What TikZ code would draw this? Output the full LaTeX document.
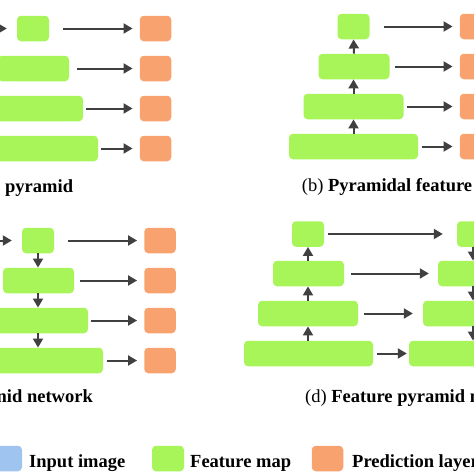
\documentclass[tikz,border=0pt]{standalone}
\usepackage{fontspec}
\setmainfont{Liberation Serif}
\usetikzlibrary{arrows.meta}
\definecolor{fgreen}{RGB}{168,245,90}
\definecolor{porange}{RGB}{248,162,112}
\definecolor{iblue}{RGB}{160,196,240}
\definecolor{agray}{RGB}{64,64,64}
\begin{document}
\begin{tikzpicture}[x=1pt,y=-1pt,
  fm/.style={fill=fgreen, rounded corners=4pt, inner sep=0pt, minimum height=25.5pt},
  pl/.style={fill=porange, rounded corners=4pt, inner sep=0pt, minimum height=25.5pt, minimum width=31.5pt},
  ib/.style={fill=iblue, rounded corners=4pt, inner sep=0pt, minimum height=25.5pt, minimum width=32pt},
  wa/.style={minimum width=32pt}, wb/.style={minimum width=71pt},
  wc/.style={minimum width=100pt}, wd/.style={minimum width=129pt},
  arr/.style={draw=agray, line width=2pt, -{Triangle[length=9pt,width=10pt]}},
  captxt/.style={inner sep=0pt, font=\fontsize{18.5}{20}\selectfont}
]
\useasboundingbox (0,0) rectangle (474,474);
\fill[white] (0,0) rectangle (474,474);

% ---------- (a) ----------
\node[fm,wa] (a1) at (33,28.5) {};
\node[fm,wb] (a2) at (33.5,68.5) {};
\node[fm,wc] (a3) at (33,108.5) {};
\node[fm,wd] (a4) at (33.5,148.5) {};
\node[pl] (pa1) at (155.5,28.5) {};
\node[pl] (pa2) at (155.5,68.5) {};
\node[pl] (pa3) at (155.5,108.5) {};
\node[pl] (pa4) at (155.5,148.5) {};
\coordinate (ina) at (-20,28.5);
\draw[arr] (ina) -- ([xshift=-10pt]a1.west);
\draw[arr] ([xshift=14pt]a1.east) -- ([xshift=-7pt]pa1.west);
\draw[arr] ([xshift=8pt]a2.east) -- ([xshift=-7pt]pa2.west);
\draw[arr] ([xshift=3pt]a3.east) -- ([xshift=-7pt]pa3.west);
\draw[arr] ([xshift=3pt]a4.east) -- ([xshift=-7pt]pa4.west);
\node[captxt, anchor=base west] (capa) at (5,192.5) {\textbf{pyramid}};

% ---------- (b) ----------
\node[fm,wa] (b1) at (353.5,26.5) {};
\node[fm,wb] (b2) at (354,66.5) {};
\node[fm,wc] (b3) at (353.5,106.5) {};
\node[fm,wd] (b4) at (353.5,146.5) {};
\node[pl] (pb1) at (475.5,26.5) {};
\node[pl] (pb2) at (475.5,66.5) {};
\node[pl] (pb3) at (475.5,106.5) {};
\node[pl] (pb4) at (475.5,146.5) {};
\draw[arr] ([xshift=14pt]b1.east) -- ([xshift=-7pt]pb1.west);
\draw[arr] ([xshift=5pt]b2.east) -- ([xshift=-7pt]pb2.west);
\draw[arr] ([xshift=3pt]b3.east) -- ([xshift=-7pt]pb3.west);
\draw[arr] ([xshift=4pt]b4.east) -- ([xshift=-7pt]pb4.west);
\draw[arr] (b2.north) -- (b1.south);
\draw[arr] (b3.north) -- (b3.north |- b2.south);
\draw[arr] (b4.north) -- (b4.north |- b3.south);
\node[captxt, anchor=base west] (capb) at (301.7,191.7) {(b) \textbf{Pyramidal feature}};

% ---------- (c) ----------
\node[fm,wa] (c1) at (38,240.5) {};
\node[fm,wb] (c2) at (38.5,280.5) {};
\node[fm,wc] (c3) at (38,320.5) {};
\node[fm,wd] (c4) at (38.5,360.5) {};
\node[pl] (pc1) at (160,240.5) {};
\node[pl] (pc2) at (160,280.5) {};
\node[pl] (pc3) at (160,320.5) {};
\node[pl] (pc4) at (160,360.5) {};
\coordinate (inc) at (-20,240.5);
\draw[arr] (inc) -- ([xshift=-10pt]c1.west);
\draw[arr] ([xshift=14pt]c1.east) -- ([xshift=-7pt]pc1.west);
\draw[arr] ([xshift=6pt]c2.east) -- ([xshift=-7pt]pc2.west);
\draw[arr] ([xshift=3pt]c3.east) -- ([xshift=-7pt]pc3.west);
\draw[arr] ([xshift=4pt]c4.east) -- ([xshift=-7pt]pc4.west);
\draw[arr] (c1.south) -- (c1.south |- c2.north);
\draw[arr] (c1.south |- c2.south) -- (c1.south |- c3.north);
\draw[arr] (c1.south |- c3.south) -- (c1.south |- c4.north);
\node[captxt, anchor=base east] (capc) at (93,402.7) {\textbf{nid network}};

% ---------- (d) ----------
\node[fm,wa] (d1) at (308,234) {};
\node[fm,wb] (d2) at (308.5,273.5) {};
\node[fm,wc] (d3) at (308,313.5) {};
\node[fm,wd] (d4) at (308.5,353.5) {};
\node[fm,wa] (e1) at (473,234) {};
\node[fm,wb] (e2) at (473.5,273.5) {};
\node[fm,wc] (e3) at (473,313.5) {};
\node[fm,wd] (e4) at (473.5,353.5) {};
\draw[arr] ([xshift=4pt]d1.east) -- ([xshift=-14pt]e1.west);
\draw[arr] ([xshift=7pt]d2.east) -- ([xshift=-9pt]e2.west);
\draw[arr] ([xshift=6pt]d3.east) -- ([xshift=-10pt]e3.west);
\draw[arr] ([xshift=4pt]d4.east) -- ([xshift=-2pt]e4.west);
\draw[arr] (d2.north -| d1.south) -- (d1.south);
\draw[arr] (d3.north -| d1.south) -- (d2.south -| d1.south);
\draw[arr] (d4.north -| d1.south) -- (d3.south -| d1.south);
\draw[arr] (e1.south) -- (e1.south |- e2.north);
\draw[arr] (e1.south |- e2.south) -- (e1.south |- e3.north);
\draw[arr] (e1.south |- e3.south) -- (e1.south |- e4.north);
\node[captxt, anchor=base west] (capd) at (305,402.7) {(d) \textbf{Feature pyramid n}};

% ---------- legend ----------
\node[ib] (lb) at (6,458.5) {};
\node[captxt, anchor=base west] (lbt) at (29,467) {\textbf{Input image}};
\node[fm,wa] (lg) at (168,458.5) {};
\node[captxt, anchor=base west] (lgt) at (190,467) {\textbf{Feature map}};
\node[pl] (lo) at (327.5,458.5) {};
\node[captxt, anchor=base west] (lot) at (352,467) {\textbf{Prediction layer}};
\end{tikzpicture}
\end{document}
